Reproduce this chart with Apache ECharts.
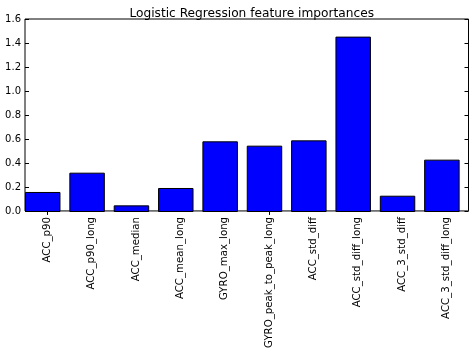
<!DOCTYPE html>
<html>
<head>
<meta charset="utf-8">
<script src="https://cdn.jsdelivr.net/npm/echarts@6/dist/echarts.min.js"></script>
<style>html,body{margin:0;padding:0;background:#fff}#c{width:474px;height:351px}</style>
</head>
<body>
<div id="c"></div>
<script>
const categories = ["ACC_p90","ACC_p90_long","ACC_median","ACC_mean_long","GYRO_max_long","GYRO_peak_to_peak_long","ACC_std_diff","ACC_std_diff_long","ACC_3_std_diff","ACC_3_std_diff_long"];
const importances = [0.166, 0.326, 0.055, 0.199, 0.586, 0.55, 0.594, 1.454, 0.135, 0.434];
const yTicks = [0, 0.2, 0.4, 0.6, 0.8, 1.0, 1.2, 1.4, 1.6];

const FONT = 'DejaVu Sans';
const L = 25, R = 5.5, T = 19, B = 139;
const W = 474;
const band = (W - L - R) / categories.length;
const shift = band * 0.1;

const tickStyle = {show: true, inside: true, alignWithLabel: true, length: 4, lineStyle: {color: '#000'}};

const chart = echarts.init(document.getElementById('c'), null, {renderer: 'canvas'});
chart.setOption({
  animation: false,
  backgroundColor: '#fff',
  title: {
    text: 'Logistic Regression feature importances',
    left: L + (W - L - R) / 2, top: 3, textAlign: 'center',
    textStyle: {fontFamily: FONT, fontSize: 12.2, fontWeight: 'normal', color: '#000'}
  },
  grid: [
    {left: L, right: R, top: T, bottom: B, show: true, borderColor: '#000', borderWidth: 1, backgroundColor: 'transparent'},
    {left: L - shift, right: R + shift, top: T, bottom: B}
  ],
  xAxis: [
    {gridIndex: 0, type: 'category', data: categories, position: 'bottom',
      axisLine: {show: false}, axisTick: tickStyle,
      axisLabel: {rotate: 90, interval: 0, margin: 6, fontFamily: FONT, fontSize: 10.2, color: '#000'}
    },
    {gridIndex: 0, type: 'category', data: categories, position: 'top',
      axisLine: {show: false}, axisTick: tickStyle, axisLabel: {show: false}
    },
    {gridIndex: 1, type: 'category', data: categories, show: false}
  ],
  yAxis: [
    {gridIndex: 0, type: 'value', min: 0, max: 1.6, interval: 0.2, position: 'left',
      axisLine: {show: false}, splitLine: {show: false},
      axisTick: {show: true, inside: true, length: 4, lineStyle: {color: '#000'}},
      axisLabel: {fontFamily: FONT, fontSize: 10, color: '#000', margin: 4,
        formatter: v => { const t = yTicks.find(x => Math.abs(x - v) < 1e-9); return (t !== undefined ? t : v).toFixed(1); }}
    },
    {gridIndex: 0, type: 'value', min: 0, max: 1.6, interval: 0.2, position: 'right',
      axisLine: {show: false}, splitLine: {show: false},
      axisTick: {show: true, inside: true, length: 4, lineStyle: {color: '#000'}},
      axisLabel: {show: false}
    },
    {gridIndex: 1, type: 'value', min: 0, max: 1.6, interval: 0.2, show: false}
  ],
  series: [{
    type: 'bar', xAxisIndex: 2, yAxisIndex: 2,
    data: importances,
    barCategoryGap: '20%',
    itemStyle: {color: '#0000ff', borderColor: '#000', borderWidth: 1}
  }]
});
</script>
</body>
</html>
